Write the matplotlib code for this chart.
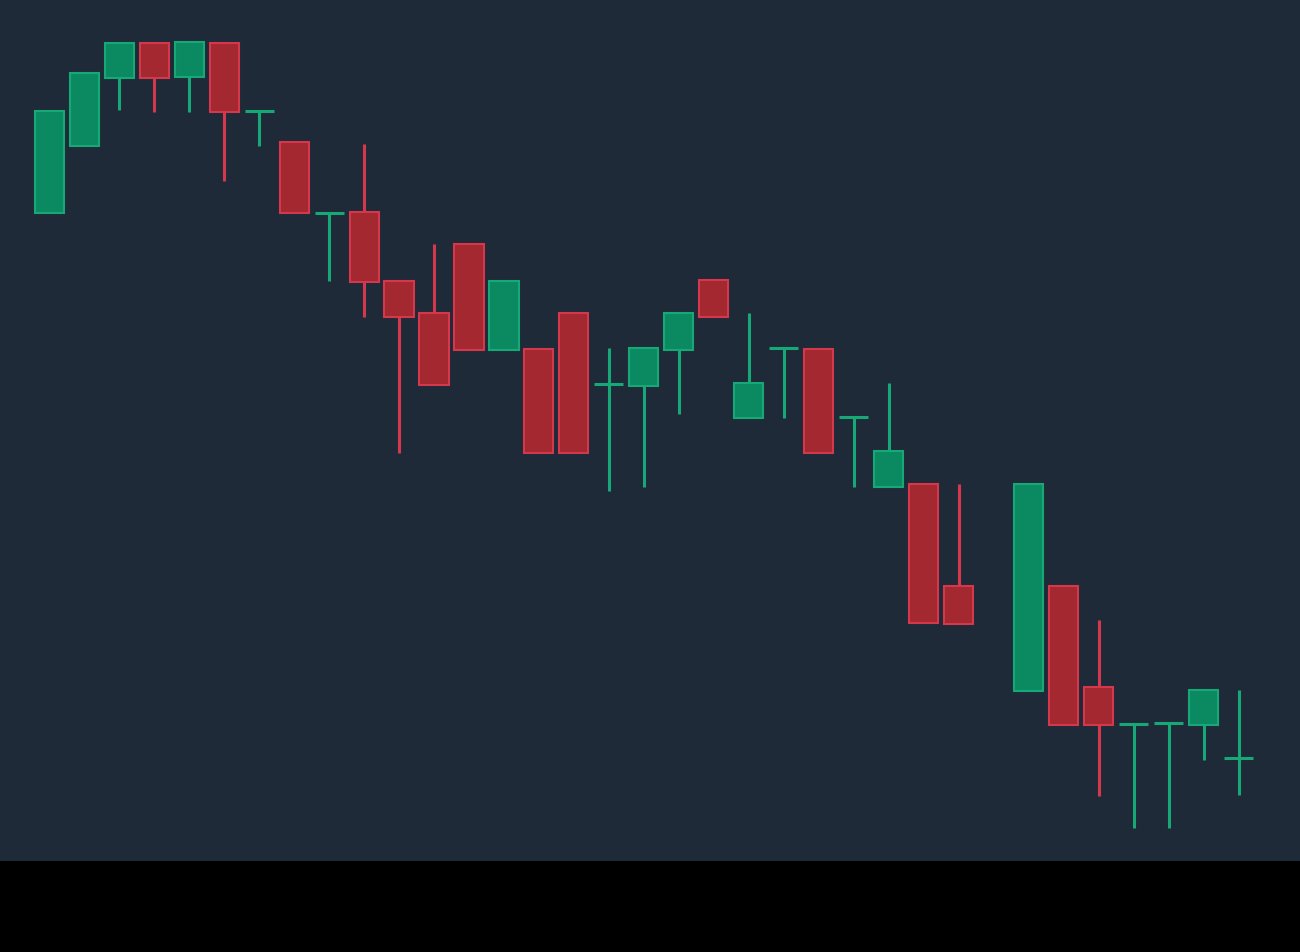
import numpy as np
import matplotlib
matplotlib.use("Agg")
import matplotlib.pyplot as plt
from matplotlib.patches import Rectangle

# -----------------------
# Datos OHLC (precio arbitrario), una vela por sesion; NaN = sesion vacia
# -----------------------
opens = [68.6, 75.3, 82.1, 85.6, 82.2, 85.6, 78.8, 75.7, 68.6, 68.7,
         61.8, 58.6, 65.5, 54.9, 55.0, 58.6, 51.5, 51.3, 54.9, 61.9,
         48.1, 55.1, 55.0, 48.2, 41.2, 41.5, 31.3, np.nan, 20.8, 31.3,
         21.2, 17.5, 17.6, 17.4, 14.1]
highs = [78.8, 82.6, 85.6, 85.6, 85.7, 85.6, 78.8, 75.7, 68.6, 75.5,
         61.8, 65.5, 65.5, 61.8, 55.0, 58.6, 55.1, 55.1, 58.6, 61.9,
         58.6, 55.1, 55.0, 48.2, 51.6, 41.5, 41.5, np.nan, 41.5, 31.3,
         27.9, 17.5, 17.6, 20.9, 20.9]
lows = [68.6, 75.3, 78.9, 78.7, 78.7, 71.8, 75.3, 68.6, 61.8, 58.2,
        44.6, 51.4, 54.9, 54.9, 44.6, 44.6, 40.8, 41.2, 48.5, 58.2,
        48.1, 48.1, 44.6, 41.2, 41.2, 27.6, 27.5, np.nan, 20.8, 17.4,
        10.3, 7.1, 7.1, 13.9, 10.4]
closes = [78.8, 82.6, 85.6, 82.1, 85.7, 78.7, 78.8, 68.6, 68.6, 61.7,
          58.2, 51.4, 54.9, 61.8, 44.6, 44.6, 51.5, 55.1, 58.6, 58.2,
          51.6, 55.1, 44.6, 48.2, 44.8, 27.6, 27.5, np.nan, 41.5, 17.4,
          17.4, 17.5, 17.6, 20.9, 14.1]

# Colores
bg = "#1f2a38"
verde_fill, verde_borde = "#0b8a61", "#17a877"
rojo_fill, rojo_borde = "#a3282f", "#d5384c"

fig = plt.figure(figsize=(13, 9.53), dpi=100)
fig.patch.set_facecolor("black")
ax = fig.add_axes([0, 91 / 953, 1, 862 / 953])
ax.set_facecolor(bg)

ancho = 0.83
for i, (o, h, l, c) in enumerate(zip(opens, highs, lows, closes)):
    if np.isnan(o):
        continue
    sube = c >= o
    fill = verde_fill if sube else rojo_fill
    borde = verde_borde if sube else rojo_borde
    # mecha
    ax.vlines(i, l, h, color=borde, linewidth=2.2, zorder=1)
    if o == c:
        # doji: solo linea horizontal
        ax.hlines(o, i - ancho / 2, i + ancho / 2, color=borde, linewidth=2.2, zorder=2)
    else:
        ax.add_patch(Rectangle((i - ancho / 2, min(o, c)), ancho, abs(c - o),
                               facecolor=fill, edgecolor=borde, linewidth=1.5, zorder=2))

ax.set_xlim(-1.404, 35.75)
ax.set_ylim(3.8, 90)
# sin ejes visibles, pero conservando el fondo
ax.set_xticks([])
ax.set_yticks([])
for s in ax.spines.values():
    s.set_visible(False)

plt.savefig("out.png", dpi=100, facecolor=fig.get_facecolor())
